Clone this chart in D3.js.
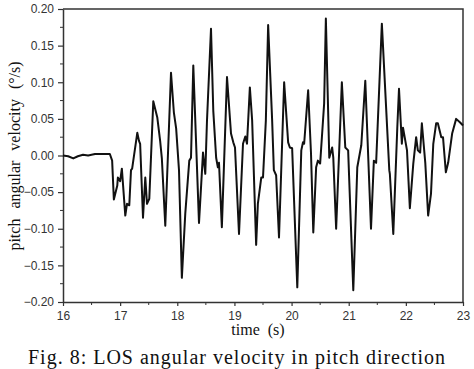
<!DOCTYPE html>
<html>
<head>
<meta charset="utf-8">
<script src="https://cdn.jsdelivr.net/npm/d3@7.9.0/dist/d3.min.js"></script>
<style>
  html, body { margin: 0; padding: 0; background: #fff; }
  svg { display: block; }
  .tick-label { font-family: "Liberation Sans", Arial, sans-serif; font-size: 12px; fill: #333; }
  .serif { font-family: "Liberation Serif", "Times New Roman", serif; fill: #111; }
</style>
</head>
<body>
<svg id="chart" width="474" height="369"></svg>
<script>
// time (s)
const times = [
  16.00, 16.09, 16.18, 16.26, 16.35, 16.44, 16.56, 16.82, 16.86, 16.89,
  16.95, 16.96, 17.00, 17.03, 17.09, 17.12, 17.16, 17.19, 17.21, 17.23,
  17.30, 17.33, 17.35, 17.40, 17.44, 17.47, 17.51, 17.58, 17.65, 17.70,
  17.73, 17.79, 17.89, 17.94, 17.98, 18.03, 18.08, 18.14, 18.21, 18.24,
  18.28, 18.38, 18.45, 18.49, 18.52, 18.59, 18.63, 18.68, 18.71, 18.73,
  18.78, 18.87, 18.94, 18.98, 19.01, 19.08, 19.15, 19.19, 19.22, 19.27,
  19.31, 19.38, 19.41, 19.47, 19.50, 19.55, 19.59, 19.66, 19.69, 19.73,
  19.78, 19.87, 19.94, 19.97, 20.01, 20.10, 20.17, 20.20, 20.22, 20.29,
  20.34, 20.38, 20.43, 20.46, 20.50, 20.57, 20.60, 20.66, 20.71, 20.73,
  20.78, 20.88, 20.94, 20.99, 21.08, 21.15, 21.22, 21.29, 21.39, 21.44,
  21.48, 21.58, 21.71, 21.72, 21.78, 21.85, 21.88, 21.93, 21.95, 22.02,
  22.07, 22.13, 22.18, 22.21, 22.25, 22.28, 22.34, 22.39, 22.44, 22.48,
  22.53, 22.56, 22.62, 22.65, 22.70, 22.74, 22.81, 22.88, 22.95, 23.00
];
// pitch angular velocity (deg/s)
const velocity = [
  0.000, -0.001, -0.004, -0.001, 0.001, 0.000, 0.002, 0.002, -0.007, -0.060,
  -0.041, -0.030, -0.035, -0.018, -0.082, -0.066, -0.068, -0.020, -0.018, -0.007,
  0.031, 0.020, 0.016, -0.085, -0.030, -0.066, -0.059, 0.074, 0.052, 0.020,
  -0.004, -0.096, 0.113, 0.059, 0.037, -0.020, -0.167, -0.079, -0.007, -0.003,
  0.123, -0.092, 0.004, -0.025, 0.048, 0.173, 0.061, -0.003, -0.016, -0.010,
  -0.098, 0.107, 0.030, 0.018, 0.011, -0.107, 0.016, 0.026, 0.016, 0.093,
  0.048, -0.122, -0.066, -0.030, -0.030, 0.048, 0.178, 0.048, -0.020, -0.027,
  -0.112, 0.100, 0.018, 0.011, 0.010, -0.180, 0.007, 0.018, 0.016, 0.089,
  0.003, -0.105, -0.016, -0.007, -0.011, 0.071, 0.187, -0.003, 0.011, -0.003,
  -0.100, 0.100, 0.011, 0.007, -0.184, -0.016, 0.014, 0.102, -0.100, -0.007,
  -0.010, 0.180, -0.020, -0.025, -0.107, 0.038, 0.091, 0.016, 0.038, 0.007,
  -0.072, -0.011, 0.025, 0.007, 0.004, 0.044, -0.010, -0.082, -0.052, 0.016,
  0.044, 0.044, 0.025, 0.025, -0.023, -0.010, 0.030, 0.050, 0.045, 0.041
];

const xTicks = [16, 17, 18, 19, 20, 21, 22, 23];
const yTicks = [-0.20, -0.15, -0.10, -0.05, 0.00, 0.05, 0.10, 0.15, 0.20];
const xLabel = "time (s)";
const yLabel = "pitch angular velocity (\u00B0/s)";
const caption = "Fig. 8: LOS angular velocity in pitch direction";

const margin = { top: 9, right: 11, bottom: 67, left: 63 };
const width = 474, height = 369;

const svg = d3.select("#chart");

const x = d3.scaleLinear().domain([16, 23]).range([margin.left, width - margin.right]);
const y = d3.scaleLinear().domain([-0.2, 0.2]).range([height - margin.bottom, margin.top]);

const axisColor = "#333";

// minor ticks halfway between majors
const xMinor = d3.range(16.5, 23, 1);
const yMinor = d3.range(-0.175, 0.2, 0.05);

// y axis (left)
const yAxis = svg.append("g")
  .attr("transform", `translate(${margin.left},0)`)
  .call(d3.axisLeft(y).tickValues(yTicks).tickSize(5).tickSizeOuter(0)
    .tickFormat(d3.format(".2f")));
yAxis.select(".domain").attr("stroke", axisColor).attr("stroke-width", 1.5);
yAxis.selectAll(".tick line").attr("stroke", axisColor).attr("stroke-width", 1.2);
yAxis.selectAll(".tick text").attr("class", "tick-label").attr("x", -9);

svg.append("g").selectAll("line")
  .data(yMinor).join("line")
  .attr("x1", margin.left - 3).attr("x2", margin.left)
  .attr("y1", d => y(d)).attr("y2", d => y(d))
  .attr("stroke", axisColor).attr("stroke-width", 1);

// x axis (bottom)
const xAxis = svg.append("g")
  .attr("transform", `translate(0,${height - margin.bottom})`)
  .call(d3.axisBottom(x).tickValues(xTicks).tickSize(4).tickSizeOuter(0)
    .tickFormat(d3.format("d")));
xAxis.select(".domain").attr("stroke", axisColor).attr("stroke-width", 1.5);
xAxis.selectAll(".tick line").attr("stroke", axisColor).attr("stroke-width", 1.2);
xAxis.selectAll(".tick text").attr("class", "tick-label").attr("y", 9);

svg.append("g").selectAll("line")
  .data(xMinor).join("line")
  .attr("x1", d => x(d)).attr("x2", d => x(d))
  .attr("y1", height - margin.bottom).attr("y2", height - margin.bottom + 3)
  .attr("stroke", axisColor).attr("stroke-width", 1);

// frame: top and right
svg.append("path")
  .attr("d", `M${x(16)},${y(0.2)}H${x(23)}V${y(-0.2)}`)
  .attr("fill", "none")
  .attr("stroke", axisColor)
  .attr("stroke-width", 1.5);

// the curve
const points = times.map((t, i) => [t, velocity[i]]);
const line = d3.line().x(d => x(d[0])).y(d => y(d[1]));
svg.append("path")
  .datum(points)
  .attr("d", line)
  .attr("fill", "none")
  .attr("stroke", "#111")
  .attr("stroke-width", 2)
  .attr("stroke-linejoin", "round");

// axis titles
svg.append("text")
  .attr("class", "serif")
  .attr("x", 258).attr("y", 335)
  .attr("text-anchor", "middle")
  .attr("font-size", 16)
  .attr("word-spacing", 4)
  .text(xLabel);

svg.append("text")
  .attr("class", "serif")
  .attr("transform", "translate(20,156) rotate(-90)")
  .attr("text-anchor", "middle")
  .attr("font-size", 16)
  .attr("word-spacing", 6)
  .text(yLabel);

// caption near the bottom edge
svg.append("text")
  .attr("class", "serif")
  .attr("x", 28).attr("y", 364)
  .attr("font-size", 20)
  .attr("textLength", 417)
  .attr("lengthAdjust", "spacing")
  .text(caption);
</script>
</body>
</html>
